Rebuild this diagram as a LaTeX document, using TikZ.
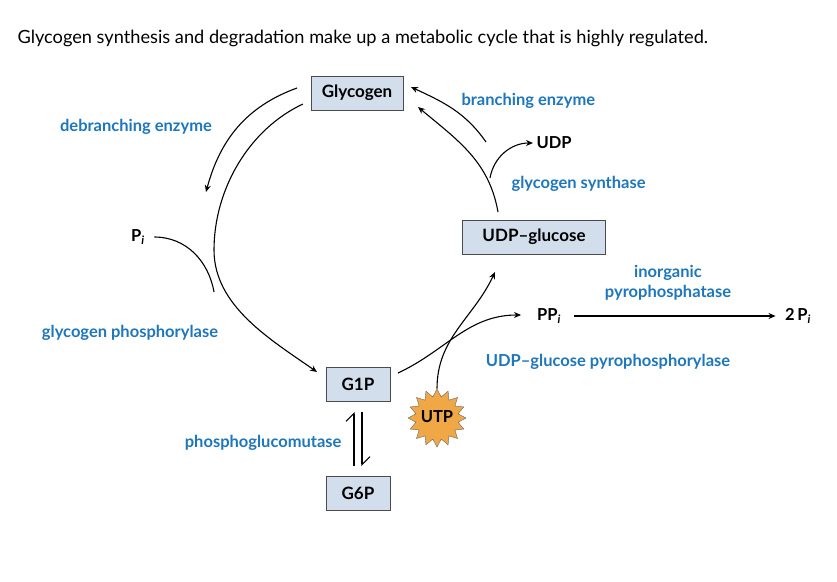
\documentclass[tikz,border=0pt]{standalone}
\usepackage{fontspec}
\setmainfont{Lato}
\usetikzlibrary{arrows.meta,shapes.geometric,calc}
\definecolor{eblue}{RGB}{30,118,188}
\definecolor{boxfill}{RGB}{210,222,236}
\definecolor{utpor}{RGB}{240,168,70}
\newcommand{\subi}{\textsubscript{\itshape i}}
\begin{document}
\begin{tikzpicture}[x=1pt,y=-1pt,
  mol/.style={draw=black!70,fill=boxfill,font=\bfseries\fontsize{17}{20}\selectfont,inner sep=4pt,minimum height=34pt},
  enz/.style={text=eblue,font=\bfseries\fontsize{16.5}{20}\selectfont},
  plain/.style={font=\bfseries\fontsize{16.5}{20}\selectfont},
  arr/.style={-{Stealth[length=7pt,width=6pt]},line width=1.1pt},
  ln/.style={line width=1.1pt}]
\useasboundingbox (0,0) rectangle (837,581);
\node[anchor=west,font=\fontsize{18.2}{22}\selectfont] (title) at (14,38) {Glycogen synthesis and degradation make up a metabolic cycle that is highly regulated.};
\node[mol,minimum width=92pt] (glyc) at (357,93) {Glycogen};
\node[mol,minimum width=143pt] (udpg) at (534,237) {UDP–glucose};
\node[mol,minimum width=64pt] (g1p) at (358,384) {G1P};
\node[mol,minimum width=64pt] (g6p) at (358,493) {G6P};
\node[star,star points=16,star point ratio=1.35,fill=utpor,draw=black!60,minimum size=58pt,inner sep=0pt] (utpstar) at (437,418) {};
\node[plain] (utp) at (437,417) {UTP};
\node[enz] (debr) at (136,127) {debranching enzyme};
\node[enz,anchor=west] (br) at (458,101) {branching enzyme};
\node[enz,anchor=west] (gs) at (508,184) {glycogen synthase};
\node[enz] (gp) at (130,333) {glycogen phosphorylase};
\node[enz,anchor=east] (pgm) at (345,443) {phosphoglucomutase};
\node[enz] (udpp) at (608,362) {UDP–glucose pyrophosphorylase};
\node[enz,align=center] (ipp) at (668,283) {inorganic\\pyrophosphatase};
\node[plain] (pi) at (138,237) {P\subi};
\node[plain] (udp) at (554,143) {UDP};
\node[plain] (ppi) at (549,316) {PP\subi};
\node[plain] (tpi) at (798,316) {2\,P\subi};
% cycle
\coordinate (a0) at (303,104);
\coordinate (a1) at (214,250);
\coordinate (a2) at (317,372);
\draw[arr] (a0) to[out=205,in=90,looseness=0.9] (a1) to[out=270,in=145,looseness=0.9] (a2);
\coordinate (d0) at (297,88);
\coordinate (d1) at (206,192);
\draw[arr] (d0) to[out=200,in=75] (d1);
\coordinate (p1) at (214,292);
\draw[ln] (pi.east) ++(6,0) coordinate (p0) to[out=0,in=100] (p1);
% synthase
\coordinate (s0) at (498,212);
\coordinate (s1) at (418,107);
\draw[arr] (s0) to[out=100,in=-40] (s1);
\coordinate (b0) at (486,142);
\coordinate (b1) at (411,87);
\draw[arr] (b0) to[out=125,in=-25] (b1);
\coordinate (u0) at (490,178);
\draw[arr] (u0) to[out=80,in=180] (udp.west);
% pyrophosphorylase
\coordinate (g0) at (398,373);
\coordinate (g1) at (521,315);
\draw[arr] (g0) to[out=25,in=180] (g1);
\coordinate (t1) at (495,272);
\draw[arr] (utpstar.north) to[out=90,in=245] (t1);
\coordinate (q0) at ($(ppi.east)+(10,0)$);
\coordinate (q1) at ($(tpi.west)+(-6,0)$);
\draw[arr] (q0) -- (q1);
% equilibrium
\draw[ln,-{Straight Barb[left,length=8pt]}] (354,466) -- (354,412);
\draw[ln,-{Straight Barb[left,length=8pt]}] (362,412) -- (362,466);
\end{tikzpicture}
\end{document}
